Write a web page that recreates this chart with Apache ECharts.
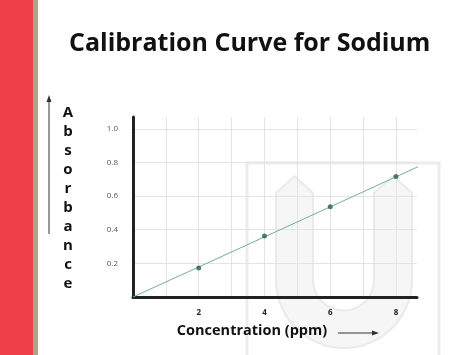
<!DOCTYPE html>
<html><head><meta charset="utf-8">
<script src="https://cdn.jsdelivr.net/npm/echarts@6/dist/echarts.min.js"></script>
<style>html,body{margin:0;padding:0;background:#fff}#c{width:474px;height:355px}</style>
</head><body><div id="c"></div>
<script>
const concentration = [2, 4, 6, 8];
const absorbance = [0.173, 0.362, 0.537, 0.716];
const fitX = [0, 9.07];
const fitY = [0, 0.81];
const xTickValues = [1, 2, 3, 4, 5, 6, 7, 8];
const xTickLabels = [2, 4, 6, 8];
const yTickValues = [0.2, 0.4, 0.6, 0.8, 1.0];
const yTickLabels = [0.2, 0.4, 0.6, 0.8, 1.0];
const titleText = 'Calibration Curve for Sodium';
const xName = 'Concentration (ppm)';
const yName = 'Absorbance';

const FONT = '"Open Sans", "Noto Sans", sans-serif';

// decorative watermark outline (U with arrow tips)
function uShape() {
  const cy = 280;
  const pts = [[276, 193], [294.5, 176], [313, 193], [313, cy]];
  const cx = 343.5;
  for (let i = 1; i < 24; i++) { const a = Math.PI - Math.PI * i / 24; pts.push([cx + 30.5 * Math.cos(a), cy + 30.5 * Math.sin(a)]); }
  pts.push([374, cy], [374, 193], [393, 176], [412, 193], [412, cy]);
  const cx2 = 344;
  for (let i = 1; i < 36; i++) { const a = Math.PI * i / 36; pts.push([cx2 + 68 * Math.cos(a), cy + 68 * Math.sin(a)]); }
  pts.push([276, cy]);
  return pts;
}

const chart = echarts.init(document.getElementById('c'), null, {renderer: 'canvas'});
chart.setOption({
  backgroundColor: '#ffffff',
  animation: false,
  title: {
    text: titleText, left: 64, top: 26,
    textStyle: {fontFamily: FONT, fontWeight: 'bold', fontSize: 25, color: '#111'}
  },
  grid: {left: 133, top: 117, right: 57, bottom: 58, containLabel: false},
  xAxis: {
    type: 'value', min: 0, max: 8.64,
    axisLine: {show: true, lineStyle: {color: '#222', width: 3}},
    axisTick: {show: false, customValues: xTickValues},
    splitLine: {show: true, lineStyle: {color: '#e4e4e4', width: 1}},
    axisLabel: {customValues: xTickLabels, margin: 12, fontFamily: FONT, fontWeight: 'bold', fontSize: 8, color: '#222'}
  },
  yAxis: {
    type: 'value', min: 0, max: 1.07,
    axisLine: {show: true, lineStyle: {color: '#222', width: 3}},
    axisTick: {show: false, customValues: yTickValues},
    splitLine: {show: true, lineStyle: {color: '#e4e4e4', width: 1}},
    axisLabel: {customValues: yTickLabels, margin: 15, fontFamily: FONT, fontSize: 8, color: '#555',
      formatter: v => v.toFixed(1)}
  },
  graphic: [
    {type: 'rect', z: -10, shape: {x: 0, y: 0, width: 33, height: 355}, style: {fill: '#ef4048'}},
    {type: 'rect', z: -10, shape: {x: 33, y: 0, width: 5, height: 355}, style: {fill: '#b3a284'}},
    {type: 'rect', z: -10, shape: {x: 247, y: 163, width: 192, height: 200}, style: {fill: 'none', stroke: '#ececec', lineWidth: 3}},
    {type: 'polygon', z: -10, shape: {points: uShape()}, style: {fill: '#f6f6f6', stroke: '#eaeaea', lineWidth: 2}},
    {type: 'line', shape: {x1: 49, y1: 234, x2: 49, y2: 100}, style: {stroke: '#333', lineWidth: 1}},
    {type: 'polygon', shape: {points: [[46.5, 102], [49, 95], [51.5, 102]]}, style: {fill: '#333'}},
    {type: 'line', shape: {x1: 338, y1: 333, x2: 374, y2: 333}, style: {stroke: '#333', lineWidth: 1}},
    {type: 'polygon', shape: {points: [[372, 330.5], [379, 333], [372, 335.5]]}, style: {fill: '#333'}},
    {type: 'text', x: 68, y: 103, style: {text: yName.split('').join('\n'), lineHeight: 19, align: 'center', verticalAlign: 'top',
      fontFamily: FONT, fontWeight: 'bold', fontSize: 15, fill: '#111'}},
    {type: 'text', x: 252, y: 331, style: {text: xName, align: 'center', verticalAlign: 'middle',
      fontFamily: FONT, fontWeight: 'bold', fontSize: 14.5, fill: '#111'}}
  ],
  series: [
    {type: 'line', data: fitX.map((x, i) => [x, fitY[i]]), showSymbol: false, symbol: 'none', clip: false,
      lineStyle: {color: '#74aca4', width: 1}, z: 3},
    {type: 'scatter', data: concentration.map((x, i) => [x, absorbance[i]]), symbolSize: 5,
      itemStyle: {color: '#2b5c56'}, z: 4}
  ]
});
</script></body></html>
